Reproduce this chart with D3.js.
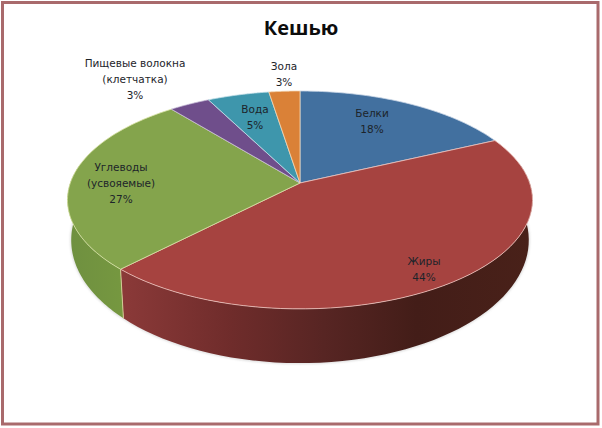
<!DOCTYPE html>
<html><head><meta charset="utf-8">
<script src="https://cdn.jsdelivr.net/npm/d3@7/dist/d3.min.js"></script>
<style>html,body{margin:0;padding:0;background:#fff}svg{display:block}
text{font-family:"DejaVu Sans",sans-serif;font-size:10.5px;fill:#1d242a;text-anchor:middle}
.title{font-family:"Open Sans",sans-serif;font-size:20px;font-weight:700;fill:#0c0c0c}</style>
</head><body><svg id="c" width="602" height="428"></svg>
<script>
const chartTitle = "Кешью";
const categories = ["Белки","Жиры","Углеводы (усвояемые)","Пищевые волокна (клетчатка)","Вода","Зола"];
const values = [18.0,44.2,27.0,3.3,5.0,2.5];
const shownPercent = ["18%","44%","27%","3%","5%","3%"];
const labelLines = [["Белки"],["Жиры"],["Углеводы","(усвояемые)"],["Пищевые волокна","(клетчатка)"],["Вода"],["Зола"]];
const colors = ["#42709f","#a64340","#84a44c","#6f4e8b","#3e96ac","#da8137"];
const edgeColors = ["#c9d6e6","#eec3bd","#d8e2a5","#c8bcd8","#c4dfe8","#f3d4b0"];

const svg = d3.select("#c");
const defs = svg.append("defs");

// frame
svg.append("rect").attr("x",2.5).attr("y",2.5).attr("width",595.5).attr("height",421.5)
   .attr("fill","#fff").attr("stroke","#a96a6c").attr("stroke-width",3);
svg.append("text").attr("class","title").attr("x",301).attr("y",35).text(chartTitle);

// perspective projection of a flat disc
const k = 0.1556;
function projector(cx, cy, b, a){
  return t => { const u=Math.sin(t), v=Math.cos(t), w=1+k*v;
    return [cx + b*u/w, cy - a*v/w]; };
}
const top3d = projector(300,183,229.7,106.3);
const bot3d = projector(300,221,226,120);

const pie = d3.pie().value(d=>d).sort(null);
const arcs = pie(values);
const line = d3.line();
const steps = (a,b) => d3.range(0,61).map(i=>a+(b-a)*i/60);

// gradients for side walls
function gradient(id, stops){
  const g = defs.append("linearGradient").attr("id",id).attr("gradientUnits","userSpaceOnUse")
    .attr("x1",70).attr("x2",532).attr("y1",0).attr("y2",0);
  stops.forEach(s=>g.append("stop").attr("offset",s[0]).attr("stop-color",s[1]));
}
gradient("wallRed",[[0,"#8f3b3a"],[0.12,"#8a3938"],[0.35,"#6f2c2b"],[0.55,"#572523"],[0.75,"#431d18"],[1,"#492119"]]);
gradient("wallGreen",[[0,"#6f9040"],[0.12,"#769840"]]);

const blur = defs.append("filter").attr("id","soft").attr("x","-10%").attr("y","-10%").attr("width","120%").attr("height","120%");
blur.append("feGaussianBlur").attr("stdDeviation",1.2);

const wallLo = Math.PI*0.44, wallHi = Math.PI*1.56;
// shadow under wall
svg.append("path")
  .attr("d",line(steps(wallLo,wallHi).map(bot3d)))
  .attr("fill","none").attr("stroke","#a0a0a0").attr("stroke-opacity",.45).attr("stroke-width",1.8)
  .attr("filter","url(#soft)");

// walls
arcs.forEach((d,i)=>{
  const a=Math.max(d.startAngle,wallLo), b=Math.min(d.endAngle,wallHi);
  if(a>=b) return;
  const ts=steps(a,b);
  const pts=ts.map(top3d).concat(ts.slice().reverse().map(bot3d));
  svg.append("path").attr("d",line(pts)+"Z")
    .attr("fill",i===1?"url(#wallRed)":"url(#wallGreen)");
});
// seam between red and green wall
const seam=arcs[1].endAngle;
svg.append("path").attr("d",line([top3d(seam),bot3d(seam)]))
  .attr("stroke","#d9cf9a").attr("stroke-width",.9).attr("fill","none");

// top faces
arcs.forEach((d,i)=>{
  const pts=[[300,183]].concat(steps(d.startAngle,d.endAngle).map(top3d));
  svg.append("path").attr("d",line(pts)+"Z").attr("fill",colors[i])
    .attr("stroke",edgeColors[i]).attr("stroke-width",.8).attr("stroke-linejoin","round");
});

// labels (centre x, first baseline y are placement, kept separate from the data)
const labelSpots = [[372,117],[424,265],[121,171],[135,67],[255,113],[284,70]];
arcs.forEach((d,i)=>{
  const lines=labelLines[i].concat([shownPercent[i]]);
  const t=svg.append("text").attr("x",labelSpots[i][0]).attr("y",labelSpots[i][1]);
  lines.forEach((s,j)=>t.append("tspan").attr("x",labelSpots[i][0]).attr("dy",j?15.8:0).text(s));
});
</script></body></html>
